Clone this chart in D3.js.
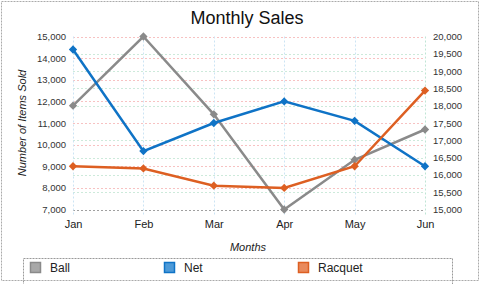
<!DOCTYPE html>
<html>
<head>
<meta charset="utf-8">
<script src="https://cdnjs.cloudflare.com/ajax/libs/d3/7.8.5/d3.min.js"></script>
<style>
body { margin: 0; background: #fff; }
svg { font-family: "Liberation Sans", Arial, sans-serif; display: block; }
</style>
</head>
<body>
<div id="chart"></div>
<script>
var months = ["Jan", "Feb", "Mar", "Apr", "May", "Jun"];
var ball = [11800, 15000, 11400, 7000, 9300, 10700];
var net = [14400, 9700, 11000, 12000, 11100, 9000];
var racquet = [9000, 8900, 8100, 8000, 9000, 12500];
var leftTicks = [7000, 8000, 9000, 10000, 11000, 12000, 13000, 14000, 15000];
var rightTicks = [15000, 15500, 16000, 16500, 17000, 17500, 18000, 18500, 19000, 19500, 20000];

var series = [
	{ name: "Ball", values: ball, color: "#8a8a8a", fill: "#a8a8a8" },
	{ name: "Net", values: net, color: "#0f73c6", fill: "#4d9ad8" },
	{ name: "Racquet", values: racquet, color: "#dd5f22", fill: "#e98a5c" }
];

var width = 480,
	height = 284,
	fmt = d3.format(",");

var svg = d3.select("#chart").append("svg")
	.attr("width", width)
	.attr("height", height);

var x = d3.scalePoint().domain(months).range([73, 425]),
	y = d3.scaleLinear().domain([7000, 15000]).range([209.5, 36.5]),
	y2 = d3.scaleLinear().domain([15000, 20000]).range([209.5, 36.5]);

// outer frame
svg.append("rect")
	.attr("x", 1.5).attr("y", 1.5)
	.attr("width", width - 3).attr("height", height - 5)
	.attr("fill", "none")
	.attr("stroke", "#aaa")
	.attr("stroke-dasharray", "2,1");

svg.append("text")
	.attr("x", 247).attr("y", 24)
	.attr("text-anchor", "middle")
	.attr("font-size", 18)
	.attr("fill", "#111")
	.text("Monthly Sales");

var grid = svg.append("g");

// right axis grid (greenish)
grid.selectAll(".g2").data(rightTicks).enter().append("line")
	.attr("x1", 73).attr("x2", 425)
	.attr("y1", function(d) { return Math.round(y2(d)) + 0.5; })
	.attr("y2", function(d) { return Math.round(y2(d)) + 0.5; })
	.attr("stroke", "#cdeadb")
	.attr("stroke-dasharray", "2,2");

// left axis grid (red)
grid.selectAll(".g1").data(leftTicks).enter().append("line")
	.attr("x1", 73).attr("x2", 425)
	.attr("y1", function(d) { return Math.round(y(d)) + 0.5; })
	.attr("y2", function(d) { return Math.round(y(d)) + 0.5; })
	.attr("stroke", function(d) { return d == 7000 ? "#a0a0a0" : "#f7c2c2"; })
	.attr("stroke-dasharray", "2,2");

// vertical grid
grid.selectAll(".gv").data(months).enter().append("line")
	.attr("x1", function(d) { return Math.round(x(d)) + 0.5; })
	.attr("x2", function(d) { return Math.round(x(d)) + 0.5; })
	.attr("y1", 36.5).attr("y2", 215)
	.attr("stroke", function(d, i) { return i == 5 ? "#bfe5d5" : "#cce4f4"; })
	.attr("stroke-dasharray", "2,2");

// left axis
var yAxis = svg.append("g")
	.attr("transform", "translate(73,0)")
	.call(d3.axisLeft(y).tickValues(leftTicks).tickFormat(fmt).tickSize(0).tickPadding(7));
yAxis.select(".domain").remove();
yAxis.selectAll("text").attr("font-size", 9.5).attr("fill", "#333").attr("font-family", "Liberation Sans, Arial, sans-serif");

// right axis
var yAxis2 = svg.append("g")
	.attr("transform", "translate(425,0)")
	.call(d3.axisRight(y2).tickValues(rightTicks).tickFormat(fmt).tickSize(0).tickPadding(8));
yAxis2.select(".domain").remove();
yAxis2.selectAll("text").attr("font-size", 9.5).attr("fill", "#333").attr("font-family", "Liberation Sans, Arial, sans-serif");

// x axis
var xAxis = svg.append("g")
	.attr("transform", "translate(0,215)")
	.call(d3.axisBottom(x).tickSize(0).tickPadding(5));
xAxis.select(".domain").remove();
xAxis.selectAll("text").attr("font-size", 11).attr("fill", "#222").attr("font-family", "Liberation Sans, Arial, sans-serif");

svg.append("text")
	.attr("x", 248).attr("y", 251)
	.attr("text-anchor", "middle")
	.attr("font-size", 11)
	.attr("font-style", "italic")
	.attr("fill", "#222")
	.text("Months");

svg.append("text")
	.attr("transform", "translate(26,123) rotate(-90)")
	.attr("text-anchor", "middle")
	.attr("font-size", 11)
	.attr("font-style", "italic")
	.attr("fill", "#222")
	.text("Number of Items Sold");

var line = d3.line()
	.x(function(d, i) { return x(months[i]); })
	.y(function(d) { return y(d); });

var sg = svg.selectAll(".series").data(series).enter().append("g");

sg.append("path")
	.attr("d", function(d) { return line(d.values); })
	.attr("fill", "none")
	.attr("stroke", function(d) { return d.color; })
	.attr("stroke-width", 2.5);

sg.each(function(s) {
	d3.select(this).selectAll("path.m").data(s.values).enter().append("path")
		.attr("class", "m")
		.attr("d", d3.symbol().type(d3.symbolDiamond2).size(44))
		.attr("transform", function(d, i) { return "translate(" + x(months[i]) + "," + y(d) + ")"; })
		.attr("fill", s.color);
});

// legend
svg.append("rect")
	.attr("x", 23.5).attr("y", 258.5)
	.attr("width", 429).attr("height", 30)
	.attr("fill", "none")
	.attr("stroke", "#999")
	.attr("stroke-dasharray", "2,1");

var legX = d3.scalePoint().domain(series.map(function(d) { return d.name; })).range([30, 298]);

var lg = svg.selectAll(".leg").data(series).enter().append("g")
	.attr("transform", function(d) { return "translate(" + legX(d.name) + ",262)"; });

lg.append("rect")
	.attr("x", 0.5).attr("y", 0.5)
	.attr("width", 10).attr("height", 10)
	.attr("fill", function(d) { return d.fill; })
	.attr("stroke", function(d) { return d.color; })
	.attr("stroke-width", 1.5);

lg.append("text")
	.attr("x", 20).attr("y", 10)
	.attr("font-size", 12)
	.attr("fill", "#222")
	.text(function(d) { return d.name; });
</script>
</body>
</html>
